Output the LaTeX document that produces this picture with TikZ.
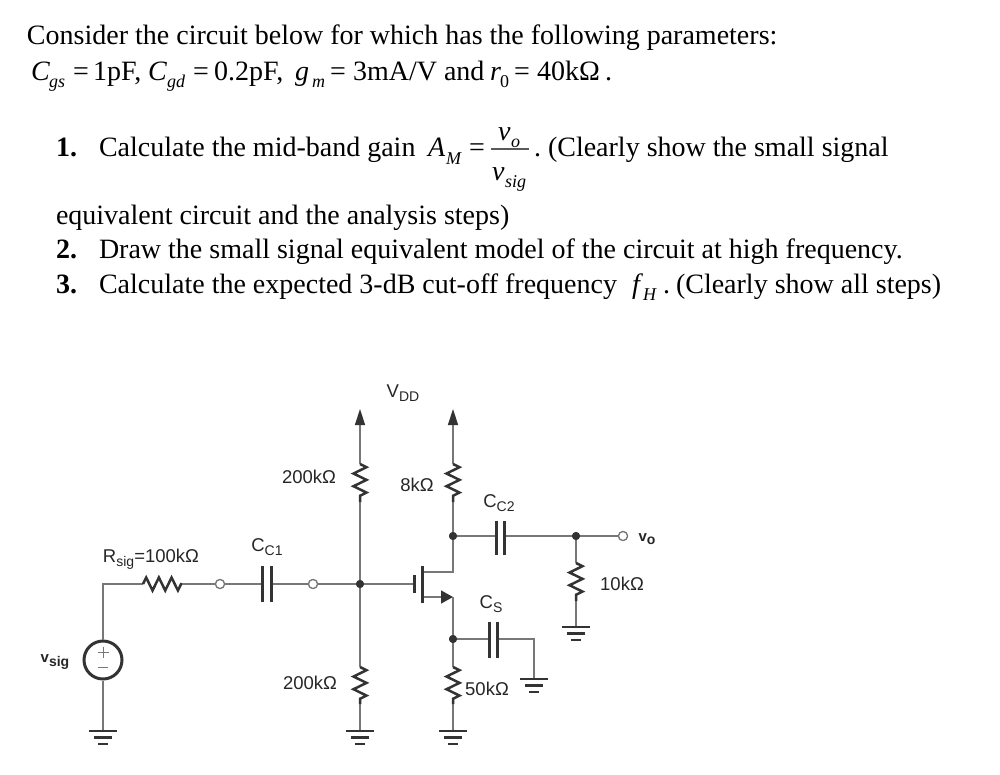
\documentclass[tikz,border=0pt]{standalone}
\usepackage{fontspec}
\setmainfont{Liberation Serif}
\newfontfamily\lblfont{Liberation Sans}
\usetikzlibrary{decorations.pathmorphing,arrows.meta}
\definecolor{wirec}{HTML}{777777}
\definecolor{partc}{HTML}{333333}
\definecolor{lblc}{HTML}{262626}
\tikzset{
  x=1pt,y=-1pt,
  txt/.style={anchor=base west,inner sep=0pt,outer sep=0pt,font=\fontsize{28}{28}\selectfont,text=black},
  sbt/.style={txt,font=\fontsize{18}{18}\selectfont\itshape},
  lbl/.style={inner sep=0pt,outer sep=0pt,font=\lblfont\fontsize{18.5}{19}\selectfont,text=lblc},
  wire/.style={draw=wirec,line width=1.5pt},
  res/.style={draw=partc,line width=2.5pt,decorate,decoration={zigzag,segment length=12.7pt,amplitude=6.5pt}},
  plate/.style={draw=partc,line width=3pt},
  gnd/.style={draw=partc,line width=2.9pt},
  dotn/.style={circle,fill=partc,draw=none,minimum size=8pt,inner sep=0pt},
  opn/.style={circle,fill=white,draw=wirec,line width=1.2pt,minimum size=9pt,inner sep=0pt},
  gndsym/.pic={\draw[gnd] (-14,0)--(14,0); \draw[gnd] (-9,6.5)--(9,6.5); \draw[gnd] (-5,13)--(5,13);},
  tip/.style={-{Triangle[length=16pt,width=10pt,color=partc]}},
  stip/.style={-{Triangle[length=12pt,width=13pt,color=partc]}},
}
\begin{document}
\begin{tikzpicture}
\useasboundingbox (0,0) rectangle (1000,774);
% text
\node[txt] (t1) at (27,44) {Consider the circuit below for which has the following parameters:};
\node[txt] (t2a) at (31,80) {\textit{C}};
\node[sbt] (t2b) at (49,87) {gs};
\node[txt] (t2c) at (73,80) {=};
\node[txt] (t2c2) at (93,80) {1pF,};
\node[txt] (t2d) at (148,80) {\textit{C}};
\node[sbt] (t2e) at (167,87) {gd};
\node[txt] (t2f) at (193,80) {=};
\node[txt] (t2f2) at (214,80) {0.2pF,};
\node[txt] (t2g) at (295,80) {\textit{g}};
\node[sbt] (t2h) at (312,87) {m};
\node[txt] (t2i) at (330,80) {=};
\node[txt] (t2i2) at (353,80) {3mA/V and};
\node[txt] (t2j) at (490,80) {\textit{r}};
\node[txt,font=\fontsize{18}{18}\selectfont] (t2k) at (500,87) {0};
\node[txt] (t2l) at (514,80) {=};
\node[txt] (t2l2) at (537,80) {40kΩ};
\node[txt] (t2m) at (605,80) {.};
\node[txt] (n1) at (56,156) {\textbf{1.}};
\node[txt] (l1) at (99,156) {Calculate the mid-band gain};
\node[txt] (am) at (428,156) {\textit{A}};
\node[sbt] (ams) at (446,164) {M};
\node[txt] (eq) at (469,156) {=};
\node[txt] (vo) at (498,140) {\textit{v}};
\node[sbt] (vos) at (511,147) {o};
\node[txt] (vs) at (492,180) {\textit{v}};
\node[sbt] (vss) at (505,187) {sig};
\coordinate (fa) at (491,149); \coordinate (fb) at (529,149);
\draw[black!65,line width=1.2pt] (fa)--(fb);
\node[txt] (l1b) at (534,156) {.};
\node[txt] (l1c) at (548,156) {(Clearly show the small signal};
\node[txt] (l2) at (56,224) {equivalent circuit and the analysis steps)};
\node[txt] (n2) at (56,258) {\textbf{2.}};
\node[txt] (l3) at (99,258) {Draw the small signal equivalent model of the circuit at high frequency.};
\node[txt] (n3) at (56,293) {\textbf{3.}};
\node[txt] (l4) at (99,293) {Calculate the expected 3-dB cut-off frequency};
\node[txt] (fh) at (632,293) {\textit{f}};
\node[sbt] (fhs) at (643,300) {H};
\node[txt] (l4b) at (663,293) {.};
\node[txt] (l4c) at (676,293) {(Clearly show all steps)};
% coordinates
\coordinate (srctop) at (103,584);
\node[circle,draw=partc,line width=3pt,fill=white,minimum size=38pt,inner sep=0pt] (src) at (103,660) {};
\coordinate (srcg) at (103,731);
\coordinate (ra) at (143,584); \coordinate (rb) at (182,584);
\node[opn] (o1) at (220,584) {};
\node[opn] (o2) at (313,584) {};
\coordinate (c1a) at (262,584); \coordinate (c1b) at (271,584);
\node[dotn] (gn) at (360,584) {};
\coordinate (up1) at (360,409); \coordinate (r1t) at (360,464); \coordinate (r1b) at (360,502);
\coordinate (r2t) at (360,667); \coordinate (r2b) at (360,704); \coordinate (g2) at (360,731);
\coordinate (up2) at (453,409); \coordinate (r3t) at (453,464); \coordinate (r3b) at (453,502);
\node[dotn] (dn) at (453,536) {};
\coordinate (c2a) at (496,536); \coordinate (c2b) at (504,536);
\node[dotn] (on) at (576,536) {};
\node[opn] (o3) at (623,536) {};
\coordinate (r4t) at (576,563); \coordinate (r4b) at (576,601); \coordinate (g4) at (576,627);
\coordinate (dr) at (453,572); \coordinate (drc) at (422,572);
\coordinate (sr) at (453,597); \coordinate (src2) at (422,597);
\coordinate (gp) at (414,584);
\node[dotn] (sn) at (453,639) {};
\coordinate (c3a) at (489,639); \coordinate (c3b) at (497,639);
\coordinate (c3r) at (534,639); \coordinate (g3) at (534,679);
\coordinate (r5t) at (453,667); \coordinate (r5b) at (453,704); \coordinate (g5) at (453,731);
% wires
\draw[wire] (src.north) -- (srctop) -- (ra);
\draw[wire] (rb) -- (o1) -- (c1a);
\draw[wire] (c1b) -- (o2) -- (gn) -- (gp);
\draw[wire] (src.south) -- (srcg);
\draw[wire,tip] (r1t) -- (up1);
\draw[wire] (r1b) -- (gn) -- (r2t);
\draw[wire] (r2b) -- (g2);
\draw[wire,tip] (r3t) -- (up2);
\draw[wire] (r3b) -- (dn) -- (dr) -- (drc);
\draw[wire] (dn) -- (c2a);
\draw[wire] (c2b) -- (on) -- (o3);
\draw[wire] (on) -- (r4t);
\draw[wire] (r4b) -- (g4);
\draw[wire,stip] (src2) -- (sr);
\draw[wire] (sr) -- (sn) -- (r5t);
\draw[wire] (r5b) -- (g5);
\draw[wire] (sn) -- (c3a);
\draw[wire] (c3b) -- (c3r) -- (g3);
% redraw terminals above wires
\node[opn] at (o1) {}; \node[opn] at (o2) {}; \node[opn] at (o3) {};
\node[dotn] at (gn) {}; \node[dotn] at (dn) {}; \node[dotn] at (on) {}; \node[dotn] at (sn) {};
% resistors
\draw[res] (ra) -- (rb);
\draw[res] (r1t) -- (r1b);
\draw[res] (r2t) -- (r2b);
\draw[res] (r3t) -- (r3b);
\draw[res] (r4t) -- (r4b);
\draw[res] (r5t) -- (r5b);
% capacitors
\draw[plate] (262,566)--(262,602); \draw[plate] (271,566)--(271,602);
\draw[plate] (496,521)--(496,555); \draw[plate] (504,521)--(504,555);
\draw[plate] (489,622)--(489,658); \draw[plate] (497,622)--(497,658);
% mosfet
\draw[plate] (422,566)--(422,603);
\draw[plate] (414,575)--(414,593);
% source signs
\draw[wirec,line width=0.9pt] (97.5,652)--(108.5,652) (103,646.5)--(103,657.5) (98,667)--(108,667);
% grounds
\pic at (srcg) {gndsym};
\pic at (g2) {gndsym};
\pic at (g3) {gndsym};
\pic at (g4) {gndsym};
\pic at (g5) {gndsym};
% labels
\newcommand{\lsub}[1]{\raisebox{-3.5pt}{\fontsize{14}{14}\selectfont #1}}
\node[lbl] (lvdd) at (403,393) {V\lsub{DD}};
\node[lbl] (l200a) at (309,477) {200kΩ};
\node[lbl] (l8k) at (417,485) {8kΩ};
\node[lbl] (lc2) at (499,503) {C\lsub{C2}};
\node[lbl,font=\lblfont\bfseries\fontsize{15}{16}\selectfont] (lvo) at (647,539) {v\lsub{o}};
\node[lbl] (lr) at (151,559) {R\lsub{sig}=100kΩ};
\node[lbl] (lc1) at (267,547) {C\lsub{C1}};
\node[lbl] (lcs) at (491,604) {C\lsub{S}};
\node[lbl] (l10k) at (622,584) {10kΩ};
\node[lbl] (l200b) at (310,683) {200kΩ};
\node[lbl] (l50k) at (487,689) {50kΩ};
\node[lbl,font=\lblfont\bfseries\fontsize{15}{16}\selectfont] (lvs) at (55,662) {v\lsub{sig}};
\end{tikzpicture}
\end{document}
